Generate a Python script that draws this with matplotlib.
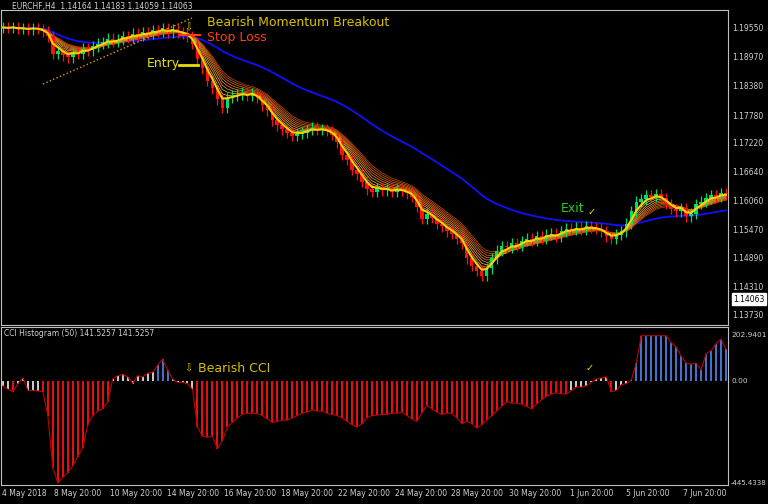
import matplotlib
matplotlib.use("Agg")
import matplotlib.pyplot as plt
import numpy as np
import pandas as pd
from matplotlib.lines import Line2D

closes = [1.1958,1.1957,1.1959,1.1955,1.1956,1.1954,1.1957,1.1955,1.1950,1.1940,
1.1905,1.1910,1.1902,1.1898,1.1908,1.1905,1.1915,1.1912,1.1920,1.1925,
1.1928,1.1935,1.1930,1.1933,1.1940,1.1938,1.1945,1.1942,1.1948,1.1945,
1.1952,1.1950,1.1957,1.1948,1.1955,1.1948,1.1945,1.1940,1.1925,1.1895,
1.1875,1.1850,1.1835,1.1812,1.1795,1.1815,1.1820,1.1822,1.1826,1.1820,
1.1825,1.1815,1.1800,1.1790,1.1770,1.1760,1.1752,1.1745,1.1738,1.1742,
1.1745,1.1750,1.1755,1.1750,1.1752,1.1748,1.1740,1.1725,1.1700,1.1690,
1.1670,1.1660,1.1645,1.1630,1.1625,1.1632,1.1628,1.1630,1.1625,1.1630,
1.1628,1.1622,1.1615,1.1595,1.1570,1.1580,1.1572,1.1560,1.1555,1.1545,
1.1540,1.1530,1.1520,1.1490,1.1475,1.1465,1.1455,1.1470,1.1490,1.1505,
1.1515,1.1512,1.1520,1.1515,1.1525,1.1530,1.1525,1.1535,1.1530,1.1538,
1.1540,1.1535,1.1545,1.1550,1.1548,1.1552,1.1548,1.1555,1.1552,1.1550,
1.1545,1.1535,1.1530,1.1538,1.1545,1.1560,1.1585,1.1605,1.1610,1.1618,
1.1615,1.1620,1.1612,1.1600,1.1590,1.1585,1.1592,1.1575,1.1580,1.1600,
1.1605,1.1612,1.1618,1.1615,1.1622,1.1620]

cci = [-20,-35,-45,-10,15,-40,-40,-42,-45,-150,
-380,-445,-420,-400,-370,-330,-290,-190,-150,-130,
-120,-90,10,25,30,20,-10,25,20,35,
40,70,97,50,10,-5,-5,-10,-35,-200,
-240,-245,-240,-295,-260,-200,-180,-160,-145,-140,
-140,-140,-150,-165,-180,-175,-170,-170,-160,-150,
-140,-135,-125,-130,-130,-140,-145,-150,-160,-175,
-190,-200,-185,-160,-150,-148,-145,-145,-140,-140,
-135,-150,-165,-175,-140,-105,-120,-135,-145,-140,
-140,-160,-185,-175,-185,-205,-190,-170,-150,-130,
-110,-90,-95,-95,-100,-110,-120,-100,-80,-65,
-55,-50,-55,-55,-40,-25,-25,-20,-5,10,
15,20,-45,-40,-15,-10,5,80,200,200,
200,200,200,200,170,150,110,80,75,80,
50,120,135,165,185,140]

price_ticks = [1.19550,1.18970,1.18380,1.17780,1.17220,1.16640,1.16060,1.15470,1.14890,1.14310,1.13730]
date_labels = ["4 May 2018","8 May 20:00","10 May 20:00","14 May 20:00","16 May 20:00","18 May 20:00",
               "22 May 20:00","24 May 20:00","28 May 20:00","30 May 20:00","1 Jun 20:00","5 Jun 20:00","7 Jun 20:00"]
date_px = [20,78,136,193,250,307,364,421,477,535,592,648,705]

W, H = 768, 504
fig = plt.figure(figsize=(W/100, H/100), dpi=100, facecolor="black")
def ax_px(l, t, r, b):
    return fig.add_axes([l/W, 1-b/H, (r-l)/W, (b-t)/H], facecolor="black")

ax = ax_px(1, 10, 728, 325)
ax2 = ax_px(1, 327, 728, 485)
n = len(closes)
x = np.arange(n)
c = np.array(closes)
o = np.r_[c[0], c[:-1]]
wick = 0.0011
s = pd.Series(c)
ax.plot(x, s.ewm(span=40).mean(), color="#1010ff", lw=1.3, zorder=3)
cols = plt.cm.YlOrBr(np.linspace(0.35, 0.75, 8))
for k, sp in enumerate(range(4, 12)):
    ax.plot(x, s.ewm(span=sp).mean(), color=cols[k], lw=0.5, zorder=3)
for i in range(n):
    col = "#00e060" if c[i] >= o[i] else "#ff1010"
    ax.vlines(i, min(o[i], c[i]) - wick, max(o[i], c[i]) + wick, color=col, lw=0.9, zorder=4)
    ax.bar(i, max(abs(c[i]-o[i]), 0.0001), bottom=min(o[i], c[i]), width=0.7, color=col, zorder=4)
ax.plot(x, s.ewm(span=3).mean(), color="#ffd000", lw=1.5, zorder=5)
ax.set_xlim(-0.4, n - 0.6)
ax.set_ylim(1.13547, 1.19935)

cv = np.array(cci, float)
bcols = ["#dddddd" if abs(v) < 45 and -50 < v else ("#ff1010" if v < 0 else "#4a7fe0") for v in cv]
ax2.vlines(x, 0, cv, colors=bcols, lw=1.3)
ax2.plot(x, cv, color="#c00000", lw=0.8)
ax2.set_xlim(-0.4, n - 0.6)
ax2.set_ylim(-454, 238)

for a in (ax, ax2):
    a.set_xticks([]); a.set_yticks([])
    for sp in a.spines.values():
        sp.set_color("#c0c0c0"); sp.set_linewidth(0.8)

tc = "#d0d0d0"
def py(p): return 10 + (1.19935 - p) / (1.19935 - 1.13547) * 315
for p in price_ticks:
    fig.text(732/W, 1 - py(p)/H, f"{p:.5f}", color=tc, fontsize=5.5, va="center", ha="left")
fig.text(733/W, 1 - 299/H, "1.14063", color="black", fontsize=5.5, va="center", ha="left",
         bbox=dict(boxstyle="square,pad=0.15", fc="white", ec="white"))
fig.text(731/W, 1 - 335/H, "202.9401", color=tc, fontsize=5.3, va="center")
fig.text(731/W, 1 - 381/H, "0.00", color=tc, fontsize=5.3, va="center")
fig.text(731/W, 1 - 483/H, "-445.4338", color=tc, fontsize=5.0, va="center")
for lbl, px in zip(date_labels, date_px):
    if px == 20:
        fig.text(2/W, 1 - 494/H, lbl, color=tc, fontsize=5.5, ha="left", va="center")
    else:
        fig.text(px/W, 1 - 494/H, lbl, color=tc, fontsize=5.5, ha="center", va="center")

fig.text(12/W, 1 - 6/H, "EURCHF,H4  1.14164 1.14183 1.14059 1.14063", color=tc, fontsize=5.5, va="center")
fig.text(4/W, 1 - 334/H, "CCI Histogram (50) 141.5257 141.5257", color=tc, fontsize=5.5, va="center")

def ft(px, pyy, s, col, fs=9):
    fig.text(px/W, 1 - pyy/H, s, color=col, fontsize=fs, va="center")
def fl(x0, y0, x1, y1, col, lw=1.5, ls="-"):
    fig.add_artist(Line2D([x0/W, x1/W], [1-y0/H, 1-y1/H], color=col, lw=lw, ls=ls))
ft(207, 22, "Bearish Momentum Breakout", "#d8c000")
ft(207, 38, "Stop Loss", "#ff4010")
ft(147, 64, "Entry", "#e8e000")
ft(184, 27, "⇩", "#d8c000", 7)
fl(180, 35, 200, 35, "#ff4010")
fl(179, 65, 198, 65, "#e8e000", 2)
fl(43, 84, 192, 18, "#d8a000", 1, ":")
ft(561, 208, "Exit", "#20d020")
ft(588, 212, "✓", "#e8e000", 7)
ft(184, 368, "⇩", "#d8c000", 7)
ft(198, 368, "Bearish CCI", "#d8c000")
ft(586, 368, "✓", "#e8e000", 7)

fig.savefig("out.png", dpi=100, facecolor="black")
